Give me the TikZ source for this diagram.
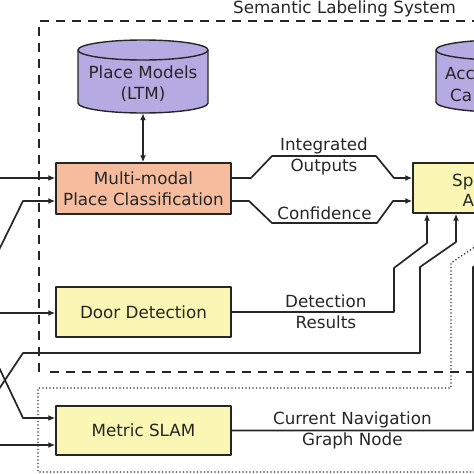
\documentclass[tikz,border=0pt]{standalone}
\usepackage{fontspec}
\setmainfont{DejaVu Sans}
\usetikzlibrary{calc,arrows.meta}
\definecolor{ltmfill}{RGB}{181,171,226}
\definecolor{mpcfill}{RGB}{246,188,158}
\definecolor{boxfill}{RGB}{250,246,180}
\definecolor{ink}{RGB}{38,38,38}
% cylinder: [style](centre x, top y)(half width, height)
\def\dbcyl[#1](#2,#3)(#4,#5){\draw[#1] (#2-#4,#3+10) -- (#2-#4,#3+#5-10) arc[start angle=180,end angle=360,x radius=#4pt,y radius=10pt] -- (#2+#4,#3+10) arc[start angle=0,end angle=180,x radius=#4pt,y radius=10pt] -- cycle; \draw[#1,fill=none] (#2-#4,#3+10) arc[start angle=180,end angle=360,x radius=#4pt,y radius=10pt];}

\begin{document}
\begin{tikzpicture}[x=1pt,y=-1pt,line join=round,
  font=\fontsize{16.75}{21}\selectfont,text=ink,
  blk/.style={draw=ink,line width=1.4pt,minimum width=175pt,minimum height=50pt,align=center},
  link/.style={draw=ink,line width=1.7pt},
  tip/.style={-{Latex[length=7pt,width=6pt]}},
  tips/.style={{Latex[length=7pt,width=6pt]}-{Latex[length=7pt,width=6pt]}},
  lbl/.style={align=center,inner sep=0pt}]
			%%%%% START %%%%%
			\useasboundingbox (0,0) rectangle (474,474);
			\clip (0,0) rectangle (474,474);
			
			\draw[ink,line width=1.3pt,dash pattern=on 9pt off 7pt] (39,372) -- (39,21) -- (540,21);
			\draw[ink,line width=1.3pt,dash pattern=on 9pt off 7pt] (50,372) -- (540,372);
			\node (sls) [anchor=base] at (344.5,13) {Semantic Labeling System};
			
			\draw[ink,line width=1.3pt,dash pattern=on 1.2pt off 2.3pt] (500,230) -- (451,263) -- (451,388) -- (38,388) -- (38,472) -- (540,472);
			
			\dbcyl[draw=ink,fill=ltmfill,line width=1.4pt](143,40)(65,73)
			\node (ltm) [lbl,minimum height=58pt] at (143,84) {Place Models\\(LTM)};
			
			\dbcyl[draw=ink,fill=ltmfill,line width=1.4pt](501,40)(65,72)
			\node (acc) [anchor=base west,inner sep=0pt] at (445,79) {Acc};
			\node (cac) [anchor=base west,inner sep=0pt] at (450,101) {Ca};
			
			\node (mpc) [blk,fill=mpcfill,minimum height=51pt] at (143.5,188.5) {Multi-modal\\Place Classification};
			\node (door) [blk,fill=boxfill] at (143.5,312) {Door Detection};
			\node (slam) [blk,fill=boxfill,minimum height=49pt] at (143.5,430.5) {Metric SLAM};
			\node (spa) [blk,fill=boxfill,minimum width=120pt] at (473,188) {};
			\node (spt) [anchor=base west,inner sep=0pt] at (452,186) {Sp};
			\node (sub) [anchor=base west,inner sep=0pt] at (462.5,206) {A};
			
			\draw[link,tips] (ltm.south) -- (ltm.south |- mpc.north);
			
			% inputs from the left
			\coordinate (inA) at (-5,178);
			\coordinate (inB) at (-5,258);
			\coordinate (inC) at (-5,313);
			\coordinate (inD) at (-5,395);
			\coordinate (inE) at (-5,359);
			\coordinate (inF) at (-5,445);
			\draw[link,tip] (inA) -- (inA -| mpc.west);
			\draw[link,tip] (inB) -- (23,201) -- ($(mpc.west)+(0,12.5)$);
			\draw[link,tip] (inC) -- (inC -| door.west);
			\draw[link,tip] (inE) -- (23,418) -- ($(slam.west)+(0,-12.5)$);
			\draw[link,tip] (inF) -- (inF -| slam.west);
			
			% outputs
			\draw[link,tip] ($(mpc.east)+(0,-10.5)$) -- (251,178) -- (272,156) -- node[lbl]{Integrated\\Outputs} (376,156) -- (394,178) -- ($(spa.west)+(0,-10)$);
			\draw[link,tip] ($(mpc.east)+(0,12.5)$) -- (249,201) -- (272,223) -- node[lbl,above=2pt]{Confidence} (377,223) -- (393,201) -- ($(spa.west)+(0,13)$);
			\draw[link,tip] (door.east) -- node[lbl,pos=.58]{Detection\\Results} (394,312) -- (394,268) -- (427,243) -- ($(spa.south)+(-46,0)$);
			\draw[link,tip] (inD) -- (23,353) -- (420,353) -- (420,267) -- (456,242) -- ($(spa.south)+(-17,0)$);
			\draw[link] (slam.east) -- node[lbl]{Current Navigation\\Graph Node} (473,430.5) -- (473,267) -- (500,248);
			%%%%% END %%%%%
\end{tikzpicture}
\end{document}
